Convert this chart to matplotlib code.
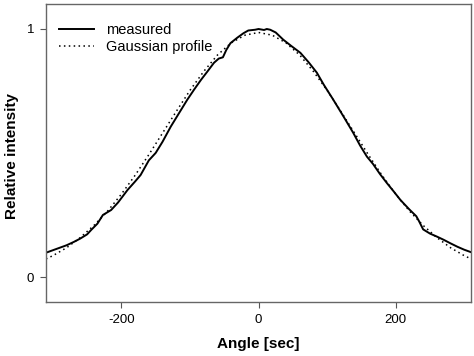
import matplotlib
matplotlib.use("Agg")
from matplotlib import pyplot as plt

plt.rcParams['font.family'] = ['Liberation Sans', 'DejaVu Sans']
plt.rcParams['axes.unicode_minus'] = False

# measured profile
angle_meas = [-310, -300, -290, -280, -269, -260, -250, -244, -235, -227,
              -215, -205, -191, -180, -172, -160, -150, -140, -128, -116,
              -104, -94, -84, -74, -65, -58, -52, -47, -41, -31,
              -22, -15, -5, 0, 8, 12, 17, 25, 36, 48,
              61, 73, 85, 95, 109, 124, 138, 148, 158, 167,
              177, 187, 197, 207, 220, 230, 234, 240, 250, 260,
              270, 279, 290, 300, 310]
int_meas = [0.098, 0.108, 0.118, 0.128, 0.142, 0.155, 0.172, 0.190, 0.215, 0.250,
            0.270, 0.300, 0.351, 0.385, 0.411, 0.470, 0.500, 0.545, 0.606, 0.660,
            0.714, 0.755, 0.794, 0.830, 0.863, 0.880, 0.885, 0.915, 0.942, 0.964,
            0.982, 0.993, 0.996, 0.999, 0.995, 0.999, 0.996, 0.985, 0.956, 0.930,
            0.903, 0.865, 0.823, 0.775, 0.714, 0.646, 0.581, 0.530, 0.485, 0.455,
            0.415, 0.379, 0.345, 0.310, 0.272, 0.245, 0.225, 0.192, 0.175, 0.163,
            0.150, 0.137, 0.122, 0.110, 0.100]

# gaussian fit
angle_gauss = [-310, -300, -280, -260, -240, -220, -200, -180, -160, -140,
               -120, -100, -80, -60, -40, -20, 0, 20, 40, 60,
               80, 100, 120, 140, 160, 180, 200, 220, 240, 260,
               280, 300, 310]
int_gauss = [0.073, 0.086, 0.118, 0.159, 0.208, 0.266, 0.334, 0.410, 0.493, 0.580,
             0.667, 0.752, 0.828, 0.894, 0.943, 0.974, 0.985, 0.974, 0.943, 0.894,
             0.828, 0.752, 0.667, 0.580, 0.493, 0.410, 0.334, 0.266, 0.208, 0.159,
             0.118, 0.086, 0.073]

x_ticks = [-200, 0, 200]
y_ticks = [0, 1]

fig = plt.figure(figsize=(4.74, 3.56), dpi=100)
ax = fig.add_axes([0.097, 0.152, 0.897, 0.837])

ax.plot(angle_meas, int_meas, color='black', lw=1.4, label='measured')
ax.plot(angle_gauss, int_gauss, color='black', lw=1.1, ls=(0, (1, 2.2)),
        label='Gaussian profile')

ax.set_xlim(-310, 310)
ax.set_ylim(-0.1, 1.1)
ax.set_xticks(x_ticks)
ax.set_yticks(y_ticks)
ax.tick_params(direction='out', length=4.5, width=0.8, color='#555555',
               labelsize=9.5, pad=4)
for s in ax.spines.values():
    s.set_color('#666666')
    s.set_linewidth(1.0)

ax.set_xlabel('Angle [sec]', fontsize=11, fontweight='bold')
ax.xaxis.set_label_coords(0.5, -0.118)
ax.set_ylabel('Relative intensity', fontsize=11, fontweight='bold')
ax.yaxis.set_label_coords(-0.064, 0.49)

ax.legend(loc='upper left', bbox_to_anchor=(0.0, 0.98), frameon=False,
          fontsize=10.5, handlelength=2.4, labelspacing=0.2, handletextpad=0.8)

fig.savefig('out.png', dpi=100)
